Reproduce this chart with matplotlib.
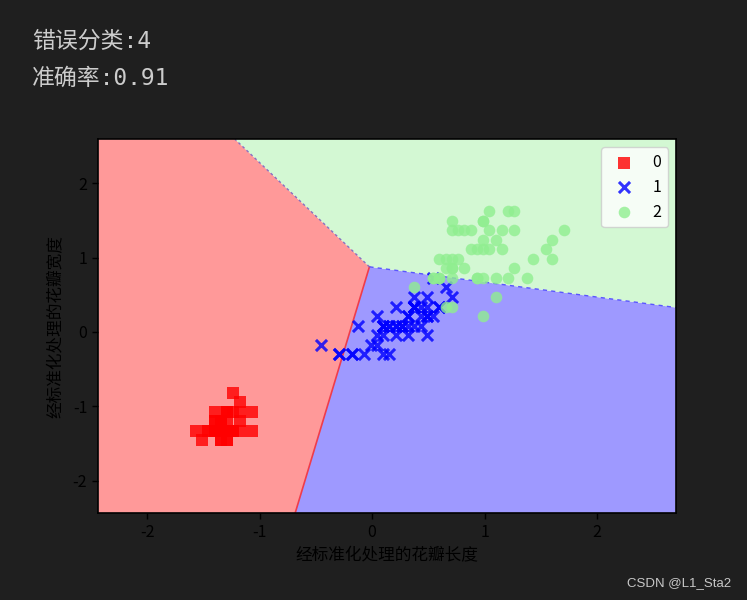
import matplotlib
matplotlib.use("Agg")
import matplotlib.pyplot as plt
import numpy as np

plt.rcParams['font.family'] = ['Noto Sans CJK SC', 'DejaVu Sans']
plt.rcParams['axes.unicode_minus'] = False

# ---- data (petal length / width in cm) ----
setosa_len = [1.4, 1.4, 1.3, 1.5, 1.4, 1.7, 1.4, 1.5, 1.4, 1.5, 1.5, 1.6, 1.4, 1.1, 1.2, 1.5, 1.3,
              1.4, 1.7, 1.5, 1.7, 1.5, 1.0, 1.7, 1.9, 1.6, 1.6, 1.5, 1.4, 1.6, 1.6, 1.5, 1.5, 1.4,
              1.5, 1.2, 1.3, 1.4, 1.3, 1.5, 1.3, 1.3, 1.3, 1.6, 1.9, 1.4, 1.6, 1.4, 1.5, 1.4]
setosa_wid = [0.2, 0.2, 0.2, 0.2, 0.2, 0.4, 0.3, 0.2, 0.2, 0.1, 0.2, 0.2, 0.1, 0.1, 0.2, 0.4, 0.4,
              0.3, 0.3, 0.3, 0.2, 0.4, 0.2, 0.5, 0.2, 0.2, 0.4, 0.2, 0.2, 0.2, 0.2, 0.4, 0.1, 0.2,
              0.2, 0.2, 0.2, 0.1, 0.2, 0.2, 0.3, 0.3, 0.2, 0.6, 0.4, 0.3, 0.2, 0.2, 0.2, 0.2]
versi_len = [4.7, 4.5, 4.9, 4.0, 4.6, 4.5, 4.7, 3.3, 4.6, 3.9, 3.5, 4.2, 4.0, 4.7, 3.6, 4.4, 4.5,
             4.1, 4.5, 3.9, 4.8, 4.0, 4.9, 4.7, 4.3, 4.4, 4.8, 5.0, 4.5, 3.5, 3.8, 3.7, 3.9, 5.1,
             4.5, 4.5, 4.7, 4.4, 4.1, 4.0, 4.4, 4.6, 4.0, 3.3, 4.2, 4.2, 4.2, 4.3, 3.0, 4.1]
versi_wid = [1.4, 1.5, 1.5, 1.3, 1.5, 1.3, 1.6, 1.0, 1.3, 1.4, 1.0, 1.5, 1.0, 1.4, 1.3, 1.4, 1.5,
             1.0, 1.5, 1.1, 1.8, 1.3, 1.5, 1.2, 1.3, 1.4, 1.4, 1.7, 1.5, 1.0, 1.1, 1.0, 1.2, 1.6,
             1.5, 1.6, 1.5, 1.3, 1.3, 1.3, 1.2, 1.4, 1.2, 1.0, 1.3, 1.2, 1.3, 1.3, 1.1, 1.3]
virg_len = [6.0, 5.1, 5.9, 5.6, 5.8, 6.6, 4.5, 6.3, 5.8, 6.1, 5.1, 5.3, 5.5, 5.0, 5.1, 5.3, 5.5,
            6.7, 6.9, 5.0, 5.7, 4.9, 6.7, 4.9, 5.7, 6.0, 4.8, 4.9, 5.6, 5.8, 6.1, 6.4, 5.6, 5.1,
            5.6, 6.1, 5.6, 5.5, 4.8, 5.4, 5.6, 5.1, 5.1, 5.9, 5.7, 5.2, 5.0, 5.2, 5.4, 5.1]
virg_wid = [2.5, 1.9, 2.1, 1.8, 2.2, 2.1, 1.7, 1.8, 1.8, 2.5, 2.0, 1.9, 2.1, 2.0, 2.4, 2.3, 1.8,
            2.2, 2.3, 1.5, 2.3, 2.0, 2.0, 1.8, 2.1, 1.8, 1.8, 1.8, 2.1, 1.6, 1.9, 2.0, 2.2, 1.5,
            1.4, 2.3, 2.4, 1.8, 1.8, 2.1, 2.4, 2.3, 1.9, 2.3, 2.5, 2.3, 1.9, 2.0, 2.3, 1.8]

# standardisation used for the plot (mean / std)
len_mean, len_std = 3.823, 1.801
wid_mean, wid_std = 1.2346, 0.778

class_labels = ['0', '1', '2']
class_colors = ['red', 'blue', 'lightgreen']
class_markers = ['s', 'x', 'o']

# decision regions (boundary vertices in standardised units)
x_lim = (-2.435, 2.70)
y_lim = (-2.44, 2.59)
triple_pt = (-0.024, 0.875)
top_end = (-1.219, 2.59)
bottom_end = (-0.685, -2.44)
right_end = (2.70, 0.328)
region_colors = ['#ff9999', '#9e99ff', '#d3f8d3']

# ---- figure ----
fig = plt.figure(figsize=(7.47, 6.0), dpi=100, facecolor='#1f1f1f')
ax = fig.add_axes([0.1316, 0.1445, 0.773, 0.6233])
ax.set_facecolor('white')

red_poly = [(x_lim[0], y_lim[1]), top_end, triple_pt, bottom_end, (x_lim[0], y_lim[0])]
blue_poly = [triple_pt, right_end, (x_lim[1], y_lim[0]), bottom_end]
green_poly = [top_end, (x_lim[1], y_lim[1]), right_end, triple_pt]
for poly, col in zip([red_poly, blue_poly, green_poly], region_colors):
    ax.fill([p[0] for p in poly], [p[1] for p in poly], color=col, lw=0, zorder=0)

ax.plot([triple_pt[0], bottom_end[0]], [triple_pt[1], bottom_end[1]], color='#f03c4a', lw=1.2, zorder=1)
ax.plot([triple_pt[0], top_end[0]], [triple_pt[1], top_end[1]], color='#8870c0', lw=1.0,
        ls=(0, (2, 2)), zorder=1)
ax.plot([triple_pt[0], right_end[0]], [triple_pt[1], right_end[1]], color='#5a55ff', lw=1.0,
        ls=(0, (3, 3)), zorder=1)

groups = [(setosa_len, setosa_wid), (versi_len, versi_wid), (virg_len, virg_wid)]
for (pl, pw), lab, col, mk in zip(groups, class_labels, class_colors, class_markers):
    xs = (np.array(pl) - len_mean) / len_std
    ys = (np.array(pw) - wid_mean) / wid_std
    if mk == 'x':
        ax.scatter(xs, ys, s=64, c=col, marker=mk, alpha=0.8, linewidths=2.2, label=lab, zorder=3)
    else:
        ax.scatter(xs, ys, s=70, c=col, marker=mk, alpha=0.8, linewidths=0, label=lab, zorder=3)

ax.set_xlim(*x_lim)
ax.set_ylim(*y_lim)
ax.set_xticks([-2, -1, 0, 1, 2])
ax.set_yticks([-2, -1, 0, 1, 2])
ax.tick_params(colors='black', labelsize=11.5, length=4.5, width=1.0)
for sp in ax.spines.values():
    sp.set_color('black')
    sp.set_linewidth(1.2)
ax.set_xlabel('经标准化处理的花瓣长度', fontsize=12, color='black', labelpad=4)
ax.set_ylabel('经标准化处理的花瓣宽度', fontsize=12, color='black', labelpad=6)

leg = ax.legend(loc='upper right', fontsize=11.5, framealpha=0.8)

fig.text(0.043, 0.932, '错误分类:4', family=['DejaVu Sans Mono', 'Noto Sans CJK SC'],
         fontsize=16.5, color='#cccccc', ha='left', va='center')
fig.text(0.043, 0.870, '准确率:0.91', family=['DejaVu Sans Mono', 'Noto Sans CJK SC'],
         fontsize=16.5, color='#cccccc', ha='left', va='center')
fig.text(0.979, 0.028, 'CSDN @L1_Sta2', family=['Liberation Sans', 'DejaVu Sans'],
         fontsize=9.5, color='#c8c8c8', ha='right', va='center')

fig.savefig('out.png', dpi=100, facecolor=fig.get_facecolor())
